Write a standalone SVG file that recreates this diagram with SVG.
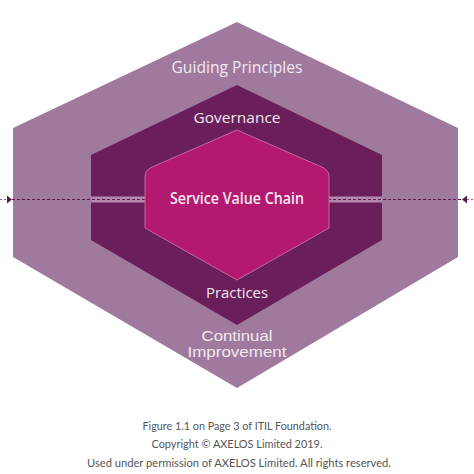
<svg xmlns="http://www.w3.org/2000/svg" width="474" height="474" viewBox="0 0 474 474">
<style>
.lbl{font-family:"Open Sans","Noto Sans",sans-serif;fill:#f3e8f1;text-anchor:middle}
.lbl2{font-family:"Liberation Sans","Arial",sans-serif;fill:#f3e8f1;text-anchor:middle;font-size:14.5px}
.cap{font-family:"Lato","Liberation Sans",sans-serif;fill:#555;font-size:11px;text-anchor:middle}
.arr{fill:#5a1a50}
</style>
<rect width="474" height="474" fill="#fff"/>
<g id="guiding-principles">
<polygon points="237,22 458,128 458,257 237,388 13,257 13,128" fill="#a07a9e"/>
<text class="lbl" x="237" y="73" font-size="16" textLength="131" lengthAdjust="spacingAndGlyphs">Guiding Principles</text>
<text class="lbl2" x="237" y="341" textLength="71" lengthAdjust="spacingAndGlyphs">Continual</text>
<text class="lbl2" x="237" y="357" textLength="99" lengthAdjust="spacingAndGlyphs">Improvement</text>
</g>
<g id="governance">
<polygon points="237,85 382,155 382,240 237,325 91,240 91,155" fill="#6a1f5b"/>
<text class="lbl" x="237" y="123" font-size="15" textLength="87" lengthAdjust="spacingAndGlyphs">Governance</text>
<text class="lbl" x="237" y="298" font-size="15" textLength="62" lengthAdjust="spacingAndGlyphs">Practices</text>
</g>
<g id="connectors">
<rect x="91" y="196.5" width="54" height="6" fill="#b488ae"/>
<rect x="328" y="196.5" width="54" height="6" fill="#b488ae"/>
<line x1="0" y1="199.5" x2="7" y2="199.5" stroke="#8a6a86" stroke-width="1" stroke-dasharray="2,2"/>
<line x1="467" y1="199.5" x2="474" y2="199.5" stroke="#8a6a86" stroke-width="1" stroke-dasharray="2,2"/>
<line x1="12" y1="199.5" x2="145" y2="199.5" stroke="#5a1a50" stroke-width="1" stroke-dasharray="3,2"/>
<line x1="328" y1="199.5" x2="462" y2="199.5" stroke="#5a1a50" stroke-width="1" stroke-dasharray="3,2"/>
<polygon class="arr" points="7,195.5 12,199.5 7,203.5"/>
<polygon class="arr" points="467,195.5 462,199.5 467,203.5"/>
</g>
<g id="service-value-chain">
<path d="M237,130 L324,168 Q329,171 329,176 L329,228 L237,280 L145,228 L145,176 Q145,171 150,168 Z" fill="#b3196f" stroke="#c46a9c" stroke-width="1"/>
<text class="lbl" x="237" y="204" font-size="16" font-weight="600" textLength="134" lengthAdjust="spacingAndGlyphs">Service Value Chain</text>
</g>
<g id="caption">
<text class="cap" x="237" y="430" textLength="189" lengthAdjust="spacingAndGlyphs">Figure 1.1 on Page 3 of ITIL Foundation.</text>
<text class="cap" x="237" y="448" textLength="171" lengthAdjust="spacingAndGlyphs">Copyright © AXELOS Limited 2019.</text>
<text class="cap" x="239" y="467" textLength="304" lengthAdjust="spacingAndGlyphs">Used under permission of AXELOS Limited. All rights reserved.</text>
</g>
</svg>
